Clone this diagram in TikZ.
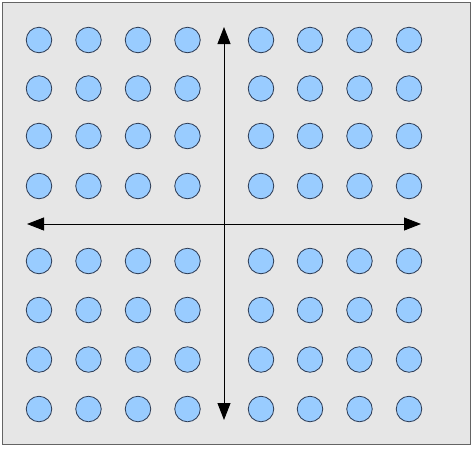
\documentclass[tikz,border=0pt]{standalone}
\usetikzlibrary{arrows.meta}
\definecolor{bg}{RGB}{230,230,230}
\definecolor{frame}{RGB}{100,100,100}
\definecolor{dotfill}{RGB}{153,204,255}
\definecolor{dotline}{RGB}{45,60,85}
\tikzset{
  dot/.style={circle,draw=dotline,fill=dotfill,line width=0.8pt,minimum size=25.5pt,inner sep=0pt},
  axis/.style={line width=0.9pt,draw=black,{Triangle[length=17pt,width=13pt]}-{Triangle[length=17pt,width=13pt]}}
}
\begin{document}
\begin{tikzpicture}[x=1pt,y=-1pt]
\useasboundingbox (0,0) rectangle (474,451);
\draw[frame,fill=bg,line width=1pt] (2.5,2.5) rectangle (470,444.5);
\foreach \cx [count=\i] in {39,88.5,138,187.5,261,310,359.5,409}{
  \foreach \cy [count=\j] in {40,88.5,136,186,261,310,359.5,409}{
    \node[dot] (d\i\j) at (\cx,\cy) {};
  }
}
\coordinate (top) at (224,27);
\coordinate (bot) at (224,420);
\coordinate (lft) at (27,224);
\coordinate (rgt) at (421,224);
\draw[axis] (top) -- (bot);
\draw[axis] (lft) -- (rgt);
\end{tikzpicture}
\end{document}
